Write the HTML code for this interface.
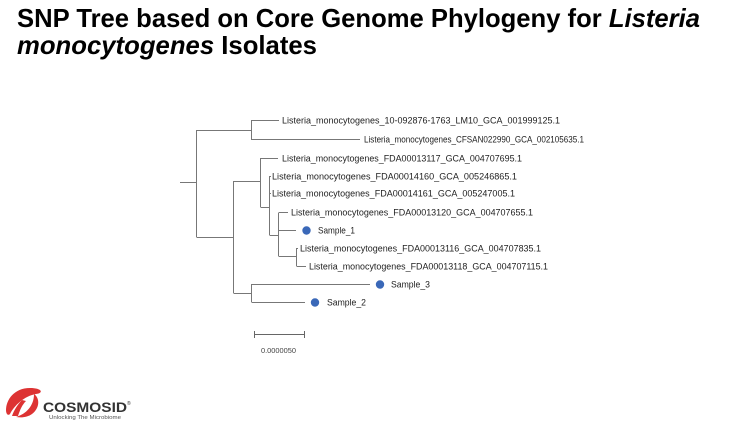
<!DOCTYPE html>
<html><head><meta charset="utf-8"><style>
html,body{margin:0;padding:0;background:#fff;}
svg{display:block;}
</style></head><body>
<svg width="750" height="428" viewBox="0 0 750 428" xmlns="http://www.w3.org/2000/svg" font-family="Liberation Sans, Arial, sans-serif">
<text x="17" y="27" font-size="26" font-weight="bold" fill="#000" textLength="683" lengthAdjust="spacingAndGlyphs">SNP Tree based on Core Genome Phylogeny for <tspan font-style="italic">Listeria</tspan></text>
<text x="17" y="54" font-size="26" font-weight="bold" fill="#000" textLength="300" lengthAdjust="spacingAndGlyphs"><tspan font-style="italic">monocytogenes</tspan> Isolates</text>
<g stroke="#777" stroke-width="1" fill="none">
<path d="M180 182.5H196.5M196.5 130V237"/>
<path d="M196.5 130.5H251.5M251.5 120V140M251.5 120.5H279M251.5 139.5H360"/>
<path d="M196.5 237.5H233.5M233.5 181V293"/>
<path d="M233.5 181.5H260.5M260.5 158V207M260.5 158.5H278M260.5 207.5H269.5"/>
<path d="M269.5 176V235M269.5 176.5H271M269.5 193.5H271M269.5 235.5H278.5"/>
<path d="M278.5 213V256M278.5 212.5H288M278.5 230.5H296M278.5 256.5H296.5"/>
<path d="M296.5 248V266M296.5 248.5H298M296.5 266.5H306"/>
<path d="M233.5 293.5H251.5M251.5 284V302M251.5 284.5H370M251.5 302.5H305"/>
<path d="M254.5 334.5H304.5M254.5 331V338M304.5 331V338" stroke="#666"/>
</g>
<g fill="#222" font-size="9">
<text x="282" y="123.5" textLength="278" lengthAdjust="spacingAndGlyphs">Listeria_monocytogenes_10-092876-1763_LM10_GCA_001999125.1</text>
<text x="364" y="142.5" textLength="220" lengthAdjust="spacingAndGlyphs">Listeria_monocytogenes_CFSAN022990_GCA_002105635.1</text>
<text x="282" y="161.5" textLength="240" lengthAdjust="spacingAndGlyphs">Listeria_monocytogenes_FDA00013117_GCA_004707695.1</text>
<text x="272" y="179.5" textLength="245" lengthAdjust="spacingAndGlyphs">Listeria_monocytogenes_FDA00014160_GCA_005246865.1</text>
<text x="272" y="196.5" textLength="243" lengthAdjust="spacingAndGlyphs">Listeria_monocytogenes_FDA00014161_GCA_005247005.1</text>
<text x="291" y="215.5" textLength="242" lengthAdjust="spacingAndGlyphs">Listeria_monocytogenes_FDA00013120_GCA_004707655.1</text>
<text x="318" y="233.5" textLength="37" lengthAdjust="spacingAndGlyphs">Sample_1</text>
<text x="300" y="251.5" textLength="241" lengthAdjust="spacingAndGlyphs">Listeria_monocytogenes_FDA00013116_GCA_004707835.1</text>
<text x="309" y="269.5" textLength="239" lengthAdjust="spacingAndGlyphs">Listeria_monocytogenes_FDA00013118_GCA_004707115.1</text>
<text x="391" y="287.5" textLength="39" lengthAdjust="spacingAndGlyphs">Sample_3</text>
<text x="327" y="305.5" textLength="39" lengthAdjust="spacingAndGlyphs">Sample_2</text>
<text x="261" y="353" font-size="7" fill="#444" textLength="35" lengthAdjust="spacingAndGlyphs">0.0000050</text>
</g>
<g fill="#3a68b8">
<circle cx="306.5" cy="230.5" r="4.2"/>
<circle cx="380" cy="284.5" r="4.2"/>
<circle cx="315" cy="302.5" r="4.2"/>
</g>
<!-- logo -->
<g>
<path d="M30 388 C14 388 6 400 6 410 C6 414 8 416 10 414 C14 406 24 396 36 394 C44 393 42 388 30 388Z" fill="#d33"/>
<path d="M22 400 C18 404 14 410 12 416 L18 416 C20 410 22 405 26 401Z" fill="#d33"/>
<circle cx="24" cy="396" r="2.2" fill="#d33"/>
<path d="M34 394 C40 398 40 408 32 414 C28 417 22 418 16 417 C26 414 34 406 34 394Z" fill="#d33"/>
<text x="43" y="412" font-size="13.5" font-weight="bold" fill="#333" textLength="84" lengthAdjust="spacingAndGlyphs">COSMOSID</text>
<text x="127" y="405" font-size="5" fill="#333">®</text>
<text x="49" y="419" font-size="5" fill="#555" textLength="72" lengthAdjust="spacingAndGlyphs">Unlocking The Microbiome</text>
</g>
</svg>
</body></html>
